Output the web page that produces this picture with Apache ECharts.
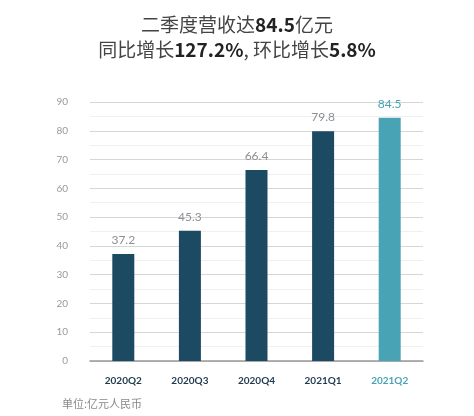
<!DOCTYPE html>
<html>
<head>
<meta charset="utf-8">
<script src="https://cdn.jsdelivr.net/npm/echarts@6/dist/echarts.min.js"></script>
<style>
  html, body { margin: 0; padding: 0; background: #fff; }
  #main { width: 474px; height: 416px; }
</style>
</head>
<body>
<div id="main"></div>
<script>
// 数据
const quarters = ['2020Q2', '2020Q3', '2020Q4', '2021Q1', '2021Q2'];
const revenue = [37.2, 45.3, 66.4, 79.8, 84.5];
const highlightIdx = 4; // 最新季度高亮

const darkBlue = '#1c4a62';
const teal = '#48a4b4';
const fontCn = '"Noto Sans CJK SC", "Noto Sans", sans-serif';

const chart = echarts.init(document.getElementById('main'));

chart.setOption({
  animation: false,
  title: {
    left: 'center',
    top: 7,
    text: '{n|二季度营收达}{b|84.5}{n|亿元}\n{n|同比增长}{b|127.2%}{n|, 环比增长}{b|5.8%}',
    textStyle: {
      rich: {
        n: { fontFamily: fontCn, fontSize: 19, fontWeight: 'normal', color: '#444', lineHeight: 25 },
        b: { fontFamily: fontCn, fontSize: 19, fontWeight: 'bold', color: '#222', lineHeight: 25 }
      }
    }
  },
  graphic: [{
    type: 'text',
    left: 62,
    top: 398,
    style: { text: '单位:亿元人民币', fill: '#888', font: '11px ' + fontCn }
  }],
  grid: { left: 90, right: 51, top: 102, bottom: 55 },
  xAxis: {
    type: 'category',
    data: quarters,
    axisTick: { show: false },
    axisLine: { lineStyle: { color: '#999', width: 1.5 } },
    axisLabel: {
      margin: 15,
      fontSize: 10,
      fontWeight: 'bold',
      fontFamily: 'Lato, "Noto Sans", sans-serif',
      color: function (v, i) { return i === highlightIdx ? teal : '#1e3a4c'; }
    }
  },
  yAxis: {
    type: 'value',
    min: 0,
    max: 90,
    interval: 10,
    axisLine: { show: false },
    axisTick: { show: false },
    axisLabel: { color: '#999', fontSize: 10, margin: 22, fontFamily: 'Lato, sans-serif' },
    splitLine: { lineStyle: { color: '#d6d6d6', width: 1 } },
    minorTick: { show: false, splitNumber: 2 },
    minorSplitLine: { show: true, lineStyle: { color: '#f0f0f0' } }
  },
  series: [{
    type: 'bar',
    barWidth: 22,
    data: revenue.map(function (v, i) {
      return {
        value: v,
        itemStyle: { color: i === highlightIdx ? teal : darkBlue },
        label: { color: i === highlightIdx ? teal : '#8a9095' }
      };
    }),
    label: {
      show: true,
      position: 'top',
      distance: 8,
      fontSize: 12,
      fontFamily: 'Lato, sans-serif'
    }
  }]
});
</script>
</body>
</html>
